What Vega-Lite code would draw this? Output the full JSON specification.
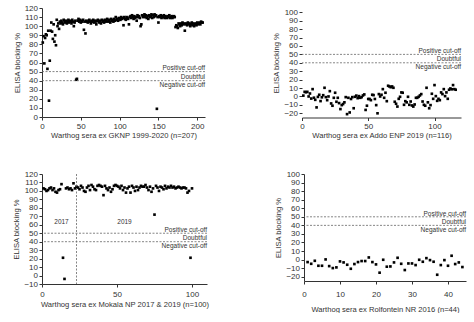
{
  "$schema": "https://vega.github.io/schema/vega-lite/v6.json",
  "padding": {"left": 12, "top": 4, "right": 0, "bottom": 0},
  "background": "white",
  "config": {
    "view": {"stroke": null},
    "axis": {"labelFont": "Liberation Sans", "titleFont": "Liberation Sans", "labelFontSize": 8, "titleFontSize": 7.6, "titleFontWeight": "normal", "labelColor": "#333", "titleColor": "#333", "domainColor": "#333", "tickColor": "#333", "grid": false, "tickSize": 3, "labelPadding": 1.5, "domainWidth": 1, "tickWidth": 1, "labelOverlap": false, "labelFlush": false},
    "text": {"font": "Liberation Sans"}
  },
  "datasets": {
    "gknp": [{"n":1,"v":82},{"n":2,"v":89},{"n":3,"v":59},{"n":4,"v":87},{"n":5,"v":91},{"n":6,"v":90},{"n":7,"v":53},{"n":8,"v":95},{"n":9,"v":18},{"n":10,"v":62},{"n":11,"v":95},{"n":12,"v":104},{"n":13,"v":94},{"n":14,"v":86},{"n":15,"v":102},{"n":16,"v":83},{"n":17,"v":90},{"n":18,"v":79},{"n":19,"v":107},{"n":20,"v":100},{"n":21,"v":103},{"n":22,"v":97},{"n":23,"v":105},{"n":24,"v":103},{"n":25,"v":106},{"n":26,"v":104},{"n":27,"v":102},{"n":28,"v":107},{"n":29,"v":105},{"n":30,"v":104},{"n":31,"v":106},{"n":32,"v":103},{"n":33,"v":105},{"n":34,"v":107},{"n":35,"v":104},{"n":36,"v":106},{"n":37,"v":105},{"n":38,"v":103},{"n":39,"v":107},{"n":40,"v":105},{"n":41,"v":100},{"n":42,"v":104},{"n":43,"v":106},{"n":44,"v":41},{"n":45,"v":42},{"n":46,"v":106},{"n":47,"v":108},{"n":48,"v":105},{"n":49,"v":107},{"n":50,"v":104},{"n":51,"v":106},{"n":52,"v":105},{"n":53,"v":107},{"n":54,"v":96},{"n":55,"v":105},{"n":56,"v":92},{"n":57,"v":106},{"n":58,"v":105},{"n":59,"v":104},{"n":60,"v":106},{"n":61,"v":107},{"n":62,"v":105},{"n":63,"v":103},{"n":64,"v":106},{"n":65,"v":105},{"n":66,"v":107},{"n":67,"v":104},{"n":68,"v":106},{"n":69,"v":105},{"n":70,"v":102},{"n":71,"v":106},{"n":72,"v":107},{"n":73,"v":105},{"n":74,"v":104},{"n":75,"v":106},{"n":76,"v":103},{"n":77,"v":107},{"n":78,"v":105},{"n":79,"v":106},{"n":80,"v":104},{"n":81,"v":107},{"n":82,"v":105},{"n":83,"v":106},{"n":84,"v":108},{"n":85,"v":105},{"n":86,"v":107},{"n":87,"v":106},{"n":88,"v":104},{"n":89,"v":108},{"n":90,"v":106},{"n":91,"v":107},{"n":92,"v":105},{"n":93,"v":108},{"n":94,"v":106},{"n":95,"v":110},{"n":96,"v":107},{"n":97,"v":108},{"n":98,"v":106},{"n":99,"v":109},{"n":100,"v":108},{"n":101,"v":107},{"n":102,"v":110},{"n":103,"v":108},{"n":104,"v":109},{"n":105,"v":101},{"n":106,"v":110},{"n":107,"v":108},{"n":108,"v":107},{"n":109,"v":110},{"n":110,"v":109},{"n":111,"v":108},{"n":112,"v":102},{"n":113,"v":110},{"n":114,"v":111},{"n":115,"v":109},{"n":116,"v":112},{"n":117,"v":110},{"n":118,"v":108},{"n":119,"v":111},{"n":120,"v":109},{"n":121,"v":110},{"n":122,"v":106},{"n":123,"v":112},{"n":124,"v":110},{"n":125,"v":111},{"n":126,"v":109},{"n":127,"v":100},{"n":128,"v":102},{"n":129,"v":112},{"n":130,"v":110},{"n":131,"v":111},{"n":132,"v":113},{"n":133,"v":110},{"n":134,"v":112},{"n":135,"v":109},{"n":136,"v":111},{"n":137,"v":108},{"n":138,"v":112},{"n":139,"v":110},{"n":140,"v":111},{"n":141,"v":113},{"n":142,"v":109},{"n":143,"v":112},{"n":144,"v":110},{"n":145,"v":113},{"n":146,"v":111},{"n":147,"v":112},{"n":148,"v":9},{"n":149,"v":110},{"n":150,"v":104},{"n":151,"v":111},{"n":152,"v":110},{"n":153,"v":112},{"n":154,"v":109},{"n":155,"v":111},{"n":156,"v":110},{"n":157,"v":112},{"n":158,"v":109},{"n":159,"v":111},{"n":160,"v":110},{"n":161,"v":109},{"n":162,"v":111},{"n":163,"v":110},{"n":164,"v":112},{"n":165,"v":109},{"n":166,"v":110},{"n":167,"v":111},{"n":168,"v":109},{"n":169,"v":110},{"n":170,"v":111},{"n":171,"v":110},{"n":172,"v":99},{"n":173,"v":101},{"n":174,"v":100},{"n":175,"v":98},{"n":176,"v":103},{"n":177,"v":102},{"n":178,"v":100},{"n":179,"v":103},{"n":180,"v":101},{"n":181,"v":104},{"n":182,"v":102},{"n":183,"v":103},{"n":184,"v":95},{"n":185,"v":102},{"n":186,"v":103},{"n":187,"v":101},{"n":188,"v":104},{"n":189,"v":102},{"n":190,"v":103},{"n":191,"v":100},{"n":192,"v":102},{"n":193,"v":104},{"n":194,"v":101},{"n":195,"v":103},{"n":196,"v":100},{"n":197,"v":102},{"n":198,"v":103},{"n":199,"v":101},{"n":200,"v":104},{"n":201,"v":102},{"n":202,"v":103},{"n":203,"v":104},{"n":204,"v":102},{"n":205,"v":105},{"n":206,"v":104},{"n":207,"v":104}],
    "addo": [{"n":1,"v":1},{"n":2,"v":5.5},{"n":3,"v":5},{"n":4,"v":5.5},{"n":5,"v":0},{"n":6,"v":3.5},{"n":7,"v":-2.5},{"n":8,"v":8.7},{"n":9,"v":-1.5},{"n":10,"v":-4},{"n":11,"v":-13},{"n":12,"v":-0.5},{"n":13,"v":2},{"n":14,"v":-5.5},{"n":15,"v":-1},{"n":16,"v":1.5},{"n":17,"v":10.3},{"n":18,"v":-0.8},{"n":19,"v":-4.4},{"n":20,"v":0},{"n":21,"v":6.3},{"n":22,"v":-8.3},{"n":23,"v":-11},{"n":24,"v":-1.6},{"n":25,"v":4.4},{"n":26,"v":-6.3},{"n":27,"v":-1.6},{"n":28,"v":-7.9},{"n":29,"v":-15},{"n":30,"v":-10.3},{"n":31,"v":-9},{"n":32,"v":-7},{"n":33,"v":-0.8},{"n":34,"v":-21},{"n":35,"v":-1.6},{"n":36,"v":-19},{"n":37,"v":-3},{"n":38,"v":-0.8},{"n":39,"v":-14},{"n":40,"v":-0.4},{"n":41,"v":1},{"n":42,"v":-2},{"n":43,"v":0.4},{"n":44,"v":-1.6},{"n":45,"v":-0.8},{"n":46,"v":1.2},{"n":47,"v":2.4},{"n":48,"v":-16},{"n":49,"v":-11},{"n":50,"v":-3},{"n":51,"v":-3},{"n":52,"v":-4.4},{"n":53,"v":2},{"n":54,"v":1.6},{"n":55,"v":-3},{"n":56,"v":-10.3},{"n":57,"v":-20},{"n":58,"v":2.8},{"n":59,"v":0},{"n":60,"v":2},{"n":61,"v":8.7},{"n":62,"v":-1.6},{"n":63,"v":4.4},{"n":64,"v":-5.6},{"n":65,"v":12.7},{"n":66,"v":11.9},{"n":67,"v":11},{"n":68,"v":11.9},{"n":69,"v":10.3},{"n":70,"v":-6.3},{"n":71,"v":-8.7},{"n":72,"v":-12},{"n":73,"v":-2.8},{"n":74,"v":-0.4},{"n":75,"v":4.8},{"n":76,"v":4.4},{"n":77,"v":-9.9},{"n":78,"v":-5.6},{"n":79,"v":-7},{"n":80,"v":-0.4},{"n":81,"v":-9.9},{"n":82,"v":-6},{"n":83,"v":-10.7},{"n":84,"v":-12},{"n":85,"v":-9.5},{"n":86,"v":-1.6},{"n":87,"v":-1.6},{"n":88,"v":-0.4},{"n":89,"v":1.2},{"n":90,"v":2.8},{"n":91,"v":-6},{"n":92,"v":-9.9},{"n":93,"v":-11},{"n":94,"v":10.3},{"n":95,"v":-7},{"n":96,"v":-14},{"n":97,"v":-10.3},{"n":98,"v":3.2},{"n":99,"v":-2.8},{"n":100,"v":13.5},{"n":101,"v":0.4},{"n":102,"v":-5.2},{"n":103,"v":-2.8},{"n":104,"v":-4.4},{"n":105,"v":4.8},{"n":106,"v":2.8},{"n":107,"v":8.7},{"n":108,"v":0.4},{"n":109,"v":4.8},{"n":110,"v":-2.8},{"n":111,"v":8},{"n":112,"v":9.5},{"n":113,"v":8.5},{"n":114,"v":13.5},{"n":115,"v":8.7},{"n":116,"v":8}],
    "mokala": [{"n":1,"v":103},{"n":2,"v":102},{"n":3,"v":100},{"n":4,"v":101},{"n":5,"v":103},{"n":6,"v":104},{"n":7,"v":101},{"n":8,"v":103},{"n":9,"v":99},{"n":10,"v":98},{"n":11,"v":101},{"n":12,"v":102},{"n":13,"v":108},{"n":14,"v":21},{"n":15,"v":-4},{"n":16,"v":103},{"n":17,"v":104},{"n":18,"v":102},{"n":19,"v":103},{"n":20,"v":101},{"n":21,"v":109},{"n":22,"v":103},{"n":23,"v":105},{"n":24,"v":104},{"n":25,"v":102},{"n":26,"v":106},{"n":27,"v":104},{"n":28,"v":100},{"n":29,"v":99},{"n":30,"v":104},{"n":31,"v":106},{"n":32,"v":101},{"n":33,"v":107},{"n":34,"v":105},{"n":35,"v":102},{"n":36,"v":101},{"n":37,"v":106},{"n":38,"v":107},{"n":39,"v":106},{"n":40,"v":105},{"n":41,"v":95},{"n":42,"v":106},{"n":43,"v":103},{"n":44,"v":101},{"n":45,"v":104},{"n":46,"v":99},{"n":47,"v":102},{"n":48,"v":106},{"n":49,"v":107},{"n":50,"v":106},{"n":51,"v":105},{"n":52,"v":103},{"n":53,"v":106},{"n":54,"v":101},{"n":55,"v":104},{"n":56,"v":98},{"n":57,"v":103},{"n":58,"v":105},{"n":59,"v":98},{"n":60,"v":106},{"n":61,"v":104},{"n":62,"v":100},{"n":63,"v":105},{"n":64,"v":101},{"n":65,"v":104},{"n":66,"v":106},{"n":67,"v":105},{"n":68,"v":105},{"n":69,"v":107},{"n":70,"v":104},{"n":71,"v":101},{"n":72,"v":105},{"n":73,"v":99},{"n":74,"v":103},{"n":75,"v":72},{"n":76,"v":106},{"n":77,"v":104},{"n":78,"v":100},{"n":79,"v":105},{"n":80,"v":104},{"n":81,"v":102},{"n":82,"v":106},{"n":83,"v":103},{"n":84,"v":105},{"n":85,"v":104},{"n":86,"v":106},{"n":87,"v":104},{"n":88,"v":105},{"n":89,"v":103},{"n":90,"v":104},{"n":91,"v":105},{"n":92,"v":104},{"n":93,"v":103},{"n":94,"v":104},{"n":95,"v":104},{"n":96,"v":103},{"n":97,"v":98},{"n":98,"v":100},{"n":99,"v":21},{"n":100,"v":103}],
    "rolf": [{"n":1,"v":-2.9},{"n":2,"v":-4.9},{"n":3,"v":-1.4},{"n":4,"v":-7.2},{"n":5,"v":-7.2},{"n":6,"v":0.2},{"n":7,"v":-7.6},{"n":8,"v":-9.9},{"n":9,"v":-9.1},{"n":10,"v":-2.1},{"n":11,"v":-3.3},{"n":12,"v":-6},{"n":13,"v":-10.7},{"n":14,"v":-5.2},{"n":15,"v":-2.9},{"n":16,"v":-1.7},{"n":17,"v":-1.7},{"n":18,"v":2.5},{"n":19,"v":-2.9},{"n":20,"v":-5.6},{"n":21,"v":-15.3},{"n":22,"v":-0.2},{"n":23,"v":-8.3},{"n":24,"v":-8},{"n":25,"v":-3.3},{"n":26,"v":2.1},{"n":27,"v":-4.9},{"n":28,"v":-12.2},{"n":29,"v":-4.5},{"n":30,"v":-4.5},{"n":31,"v":-6.4},{"n":32,"v":-0.2},{"n":33,"v":-2.5},{"n":34,"v":1.7},{"n":35,"v":-0.6},{"n":36,"v":-2.5},{"n":37,"v":-17.7},{"n":38,"v":-6.4},{"n":39,"v":-0.6},{"n":40,"v":-7.2},{"n":41,"v":4.5},{"n":42,"v":-5.2},{"n":43,"v":-3.3},{"n":44,"v":-8.7}],
    "cutlines": [{"v":50},{"v":40}],
    "cutlabels": [{"label":"Positive cut-off","v":53.5},{"label":"Doubtful","v":44.5},{"label":"Negative cut-off","v":35}],
    "years": [{"label":"2017","n":13,"v":63},{"label":"2019","n":55,"v":63}],
    "split": [{"n":23}]
  },
  "spacing": 30,
  "vconcat": [
    {
      "spacing": 66,
      "hconcat": [
        {
          "width": 163, "height": 109,
          "layer": [
            {"data": {"name": "gknp"}, "mark": {"type": "point", "shape": "square", "filled": true, "size": 7, "color": "black", "opacity": 1},
             "encoding": {
               "x": {"field": "n", "type": "quantitative", "scale": {"domain": [0, 210], "nice": false, "zero": false}, "axis": {"values": [0, 50, 100, 150, 200], "title": "Warthog sera ex GKNP 1999-2020 (n=207)", "labelPadding": 2.5, "titlePadding": 1}},
               "y": {"field": "v", "type": "quantitative", "scale": {"domain": [0, 120], "nice": false}, "axis": {"values": [0,10,20,30,40,50,60,70,80,90,100,110,120], "title": "ELISA blocking %", "titlePadding": 3}}}},
            {"data": {"name": "cutlines"}, "mark": {"type": "rule", "strokeDash": [2, 1.5], "color": "#666", "strokeWidth": 0.8}, "encoding": {"y": {"field": "v", "type": "quantitative", "axis": {"values": [0,10,20,30,40,50,60,70,80,90,100,110,120], "title": "ELISA blocking %", "titlePadding": 3}}}},
            {"data": {"name": "cutlabels"}, "mark": {"type": "text", "align": "right", "baseline": "middle", "fontSize": 6.5, "color": "#333"}, "encoding": {"x": {"datum": 210, "axis": {"values": [0, 50, 100, 150, 200], "title": "Warthog sera ex GKNP 1999-2020 (n=207)", "labelPadding": 2.5, "titlePadding": 1}}, "y": {"field": "v", "type": "quantitative", "axis": {"values": [0,10,20,30,40,50,60,70,80,90,100,110,120], "title": "ELISA blocking %", "titlePadding": 3}}, "text": {"field": "label"}}}
          ]
        },
        {
          "width": 159, "height": 109.5,
          "layer": [
            {"data": {"name": "addo"}, "mark": {"type": "point", "shape": "square", "filled": true, "size": 7, "color": "black", "opacity": 1},
             "encoding": {
               "x": {"field": "n", "type": "quantitative", "scale": {"domain": [0, 120], "nice": false}, "axis": {"values": [0, 50, 100], "title": "Warthog sera ex Addo ENP 2019 (n=116)", "labelPadding": 1.5, "titlePadding": 1}},
               "y": {"field": "v", "type": "quantitative", "scale": {"domain": [-25, 105.1], "nice": false, "zero": false}, "axis": {"values": [-20,-10,0,10,20,30,40,50,60,70,80,90,100], "title": "ELISA blocking %", "titlePadding": 3, "domain": false}}}},
            {"mark": {"type": "rule", "color": "#333", "strokeWidth": 1}, "encoding": {"x": {"datum": 0, "axis": {"values": [0, 50, 100], "title": "Warthog sera ex Addo ENP 2019 (n=116)", "labelPadding": 1.5, "titlePadding": 1}}, "y": {"datum": -25, "axis": {"values": [-20,-10,0,10,20,30,40,50,60,70,80,90,100], "title": "ELISA blocking %", "titlePadding": 3, "domain": false}}, "y2": {"datum": 100}}},
            {"data": {"name": "cutlines"}, "mark": {"type": "rule", "strokeDash": [2, 1.5], "color": "#666", "strokeWidth": 0.8}, "encoding": {"y": {"field": "v", "type": "quantitative", "axis": {"values": [-20,-10,0,10,20,30,40,50,60,70,80,90,100], "title": "ELISA blocking %", "titlePadding": 3, "domain": false}}}},
            {"data": {"name": "cutlabels"}, "mark": {"type": "text", "align": "right", "baseline": "middle", "fontSize": 6.5, "color": "#333"}, "encoding": {"x": {"datum": 120, "axis": {"values": [0, 50, 100], "title": "Warthog sera ex Addo ENP 2019 (n=116)", "labelPadding": 1.5, "titlePadding": 1}}, "y": {"field": "v", "type": "quantitative", "axis": {"values": [-20,-10,0,10,20,30,40,50,60,70,80,90,100], "title": "ELISA blocking %", "titlePadding": 3, "domain": false}}, "text": {"field": "label"}}}
          ]
        }
      ]
    },
    {
      "spacing": 65,
      "hconcat": [
        {
          "width": 165, "height": 110,
          "layer": [
            {"data": {"name": "mokala"}, "mark": {"type": "point", "shape": "square", "filled": true, "size": 7, "color": "black", "opacity": 1},
             "encoding": {
               "x": {"field": "n", "type": "quantitative", "scale": {"domain": [0, 110], "nice": false}, "axis": {"values": [0, 50, 100], "title": "Warthog sera ex Mokala NP 2017 & 2019 (n=100)", "labelPadding": 3.5, "titlePadding": 2}},
               "y": {"field": "v", "type": "quantitative", "scale": {"domain": [-10, 120], "nice": false, "zero": false}, "axis": {"values": [-10,0,10,20,30,40,50,60,70,80,90,100,110,120], "title": "ELISA blocking %", "titlePadding": 3}}}},
            {"data": {"name": "split"}, "mark": {"type": "rule", "strokeDash": [2, 1.5], "color": "#666", "strokeWidth": 0.8}, "encoding": {"x": {"field": "n", "type": "quantitative", "axis": {"values": [0, 50, 100], "title": "Warthog sera ex Mokala NP 2017 & 2019 (n=100)", "labelPadding": 3.5, "titlePadding": 2}}}},
            {"data": {"name": "cutlines"}, "mark": {"type": "rule", "strokeDash": [2, 1.5], "color": "#666", "strokeWidth": 0.8}, "encoding": {"y": {"field": "v", "type": "quantitative", "axis": {"values": [-10,0,10,20,30,40,50,60,70,80,90,100,110,120], "title": "ELISA blocking %", "titlePadding": 3}}}},
            {"data": {"name": "cutlabels"}, "mark": {"type": "text", "align": "right", "baseline": "middle", "fontSize": 6.5, "color": "#333"}, "encoding": {"x": {"datum": 110, "axis": {"values": [0, 50, 100], "title": "Warthog sera ex Mokala NP 2017 & 2019 (n=100)", "labelPadding": 3.5, "titlePadding": 2}}, "y": {"field": "v", "type": "quantitative", "axis": {"values": [-10,0,10,20,30,40,50,60,70,80,90,100,110,120], "title": "ELISA blocking %", "titlePadding": 3}}, "text": {"field": "label"}}},
            {"data": {"name": "years"}, "mark": {"type": "text", "align": "center", "baseline": "middle", "fontSize": 6.5, "color": "#333"}, "encoding": {"x": {"field": "n", "type": "quantitative", "axis": {"values": [0, 50, 100], "title": "Warthog sera ex Mokala NP 2017 & 2019 (n=100)", "labelPadding": 3.5, "titlePadding": 2}}, "y": {"field": "v", "type": "quantitative", "axis": {"values": [-10,0,10,20,30,40,50,60,70,80,90,100,110,120], "title": "ELISA blocking %", "titlePadding": 3}}, "text": {"field": "label"}}}
          ]
        },
        {
          "width": 162, "height": 107,
          "layer": [
            {"data": {"name": "rolf"}, "mark": {"type": "point", "shape": "square", "filled": true, "size": 7, "color": "black", "opacity": 1},
             "encoding": {
               "x": {"field": "n", "type": "quantitative", "scale": {"domain": [0, 45], "nice": false}, "axis": {"values": [0, 10, 20, 30, 40], "title": "Warthog sera ex Rolfontein NR 2016 (n=44)", "labelPadding": 6, "titlePadding": 7}},
               "y": {"field": "v", "type": "quantitative", "scale": {"domain": [-25, 100], "nice": false, "zero": false}, "axis": {"values": [-20,-10,0,10,20,30,40,50,60,70,80,90,100], "title": "ELISA blocking %", "titlePadding": 3}}}},
            {"data": {"name": "cutlines"}, "mark": {"type": "rule", "strokeDash": [2, 1.5], "color": "#666", "strokeWidth": 0.8}, "encoding": {"y": {"field": "v", "type": "quantitative", "axis": {"values": [-20,-10,0,10,20,30,40,50,60,70,80,90,100], "title": "ELISA blocking %", "titlePadding": 3}}}},
            {"data": {"name": "cutlabels"}, "mark": {"type": "text", "align": "right", "baseline": "middle", "fontSize": 6.5, "color": "#333"}, "encoding": {"x": {"datum": 45, "axis": {"values": [0, 10, 20, 30, 40], "title": "Warthog sera ex Rolfontein NR 2016 (n=44)", "labelPadding": 6, "titlePadding": 7}}, "y": {"field": "v", "type": "quantitative", "axis": {"values": [-20,-10,0,10,20,30,40,50,60,70,80,90,100], "title": "ELISA blocking %", "titlePadding": 3}}, "text": {"field": "label"}}}
          ]
        }
      ]
    }
  ]
}
